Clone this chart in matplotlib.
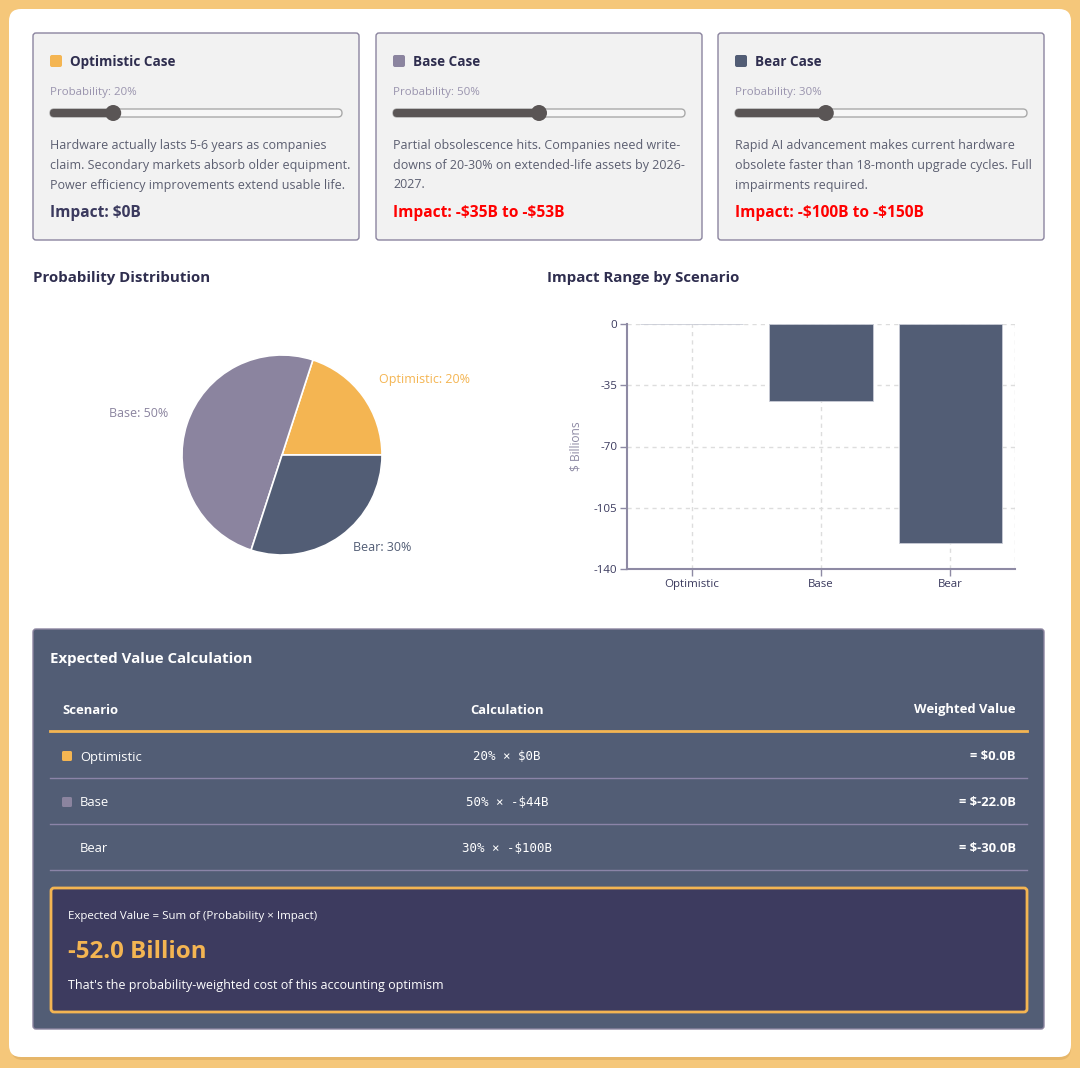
import matplotlib
matplotlib.use("Agg")
import matplotlib.pyplot as plt
from matplotlib.patches import FancyBboxPatch, Rectangle, Circle

plt.rcParams['font.family'] = ['Open Sans', 'DejaVu Sans']
plt.rcParams['axes.unicode_minus'] = False

# ---------------- data ----------------
scenarios = ["Optimistic", "Base", "Bear"]
card_titles = ["Optimistic Case", "Base Case", "Bear Case"]
probabilities = [20, 50, 30]
bar_impacts = [0, -44, -125]
calc_impacts = [0, -44, -100]
weighted_values = [0.0, -22.0, -30.0]
impact_labels = ["Impact: $0B", "Impact: -$35B to -$53B", "Impact: -$100B to -$150B"]
descriptions = [
    ["Hardware actually lasts 5-6 years as companies",
     "claim. Secondary markets absorb older equipment.",
     "Power efficiency improvements extend usable life."],
    ["Partial obsolescence hits. Companies need write-",
     "downs of 20-30% on extended-life assets by 2026-",
     "2027."],
    ["Rapid AI advancement makes current hardware",
     "obsolete faster than 18-month upgrade cycles. Full",
     "impairments required."],
]
y_ticks = [0, -35, -70, -105, -140]
expected_value = -52.0

colors = ["#F4B552", "#8B849F", "#525D75"]
impact_colors = ["#3B3A5E", "#FF0000", "#FF0000"]
DARK = "#2F2E4F"
W, H = 1080, 1068

fig = plt.figure(figsize=(W / 100, H / 100), dpi=100)
fig.patch.set_facecolor("#F5C77A")
bg = fig.add_axes([0, 0, 1, 1], zorder=0)
bg.set_xlim(0, W)
bg.set_ylim(H, 0)
bg.axis("off")


def pt(px):
    return px * 0.72


def T(x, y, s, size, **kw):
    kw.setdefault("va", "center")
    kw.setdefault("ha", "left")
    return bg.text(x, y + 1, s, fontsize=pt(size), parse_math=False, **kw)


# white card with shadow
bg.add_patch(FancyBboxPatch((11, 12), 1060, 1048, boxstyle="round,pad=0,rounding_size=12",
                            fc="#D9A65A", ec="none", alpha=0.5))
bg.add_patch(FancyBboxPatch((9, 9), 1062, 1048, boxstyle="round,pad=0,rounding_size=12",
                            fc="white", ec="none"))

# ---------------- top cards ----------------
card_x = [33, 376, 718]
card_w = 326
for i in range(3):
    x0 = card_x[i]
    bg.add_patch(FancyBboxPatch((x0, 33), card_w, 207, boxstyle="round,pad=0,rounding_size=3",
                                fc="#F2F2F2", ec="#8B849F", lw=1))
    bg.add_patch(FancyBboxPatch((x0 + 17, 55), 12, 12, boxstyle="round,pad=0,rounding_size=2",
                                fc=colors[i], ec="none"))
    T(x0 + 37, 61, card_titles[i], 13.5, fontweight="bold", color=DARK)
    T(x0 + 17, 92, f"Probability: {probabilities[i]}%", 11.5, color="#9A94AE")
    # slider
    tl, tr = x0 + 17, x0 + 309
    bg.add_patch(FancyBboxPatch((tl, 109), tr - tl, 8, boxstyle="round,pad=0,rounding_size=4",
                                fc="#F7F7F7", ec="#AAAAAA", lw=1))
    thumb = tl + 8 + probabilities[i] / 100 * (tr - tl - 16)
    bg.add_patch(FancyBboxPatch((tl, 109), thumb - tl, 8, boxstyle="round,pad=0,rounding_size=4",
                                fc="#5A5555", ec="none"))
    bg.add_patch(Circle((thumb, 113), 8, fc="#5A5555", ec="none"))
    for j, line in enumerate(descriptions[i]):
        T(x0 + 17, 144 + 20 * j, line, 12.5, color="#5B5E70")
    T(x0 + 17, 212, impact_labels[i], 15.5, fontweight="bold", color=impact_colors[i])

# ---------------- section titles ----------------
T(33, 277, "Probability Distribution", 15, fontweight="bold", color=DARK)
T(547, 277, "Impact Range by Scenario", 15, fontweight="bold", color=DARK)

# ---------------- pie ----------------
cx, cy, r = 282, 455, 100
side = 2.5 * r
pax = fig.add_axes([(cx - side / 2) / W, 1 - (cy + side / 2) / H, side / W, side / H], zorder=2)
pax.patch.set_alpha(0)
wedges, texts = pax.pie(probabilities, labels=[f"{s}: {p}%" for s, p in zip(scenarios, probabilities)],
                        colors=colors, startangle=0, counterclock=True, labeldistance=1.2,
                        wedgeprops=dict(edgecolor="white", linewidth=1.2),
                        textprops=dict(fontsize=pt(12.5)))
for t, c in zip(texts, colors):
    t.set_color(c)
    px, py = t.get_position()
    t.set_position((px, py + 0.045))

# ---------------- bar chart ----------------
bl, br, bt, bb = 627, 1015, 324, 569
bax = fig.add_axes([bl / W, 1 - bb / H, (br - bl) / W, (bb - bt) / H], zorder=2)
bax.set_facecolor("none")
xpos = list(range(len(scenarios)))
bax.bar(xpos, bar_impacts, width=0.8, color=colors[2], edgecolor="#C9CCD6", linewidth=0.6, zorder=3)
bax.set_xlim(-0.5, 2.5)
bax.set_ylim(-140, 0)
bax.set_yticks(y_ticks)
bax.set_xticks(xpos)
bax.set_xticklabels(scenarios)
bax.tick_params(axis="both", labelsize=pt(11.5), colors="#8E8AA4", labelcolor="#3B3A5E",
                length=5, width=1, pad=2)
bax.grid(True, linestyle=(0, (3, 3)), color="#DDDDDD", linewidth=1, zorder=0)
bax.axvline(2.5, linestyle=(0, (3, 3)), color="#DDDDDD", linewidth=1, zorder=0)
for s in ["top", "right"]:
    bax.spines[s].set_visible(False)
for s in ["left", "bottom"]:
    bax.spines[s].set_color("#8E8AA4")
    bax.spines[s].set_linewidth(1.5)
bax.set_ylabel("$ Billions", fontsize=pt(12), color="#8E8AA4", labelpad=8)

# ---------------- expected value panel ----------------
bg.add_patch(FancyBboxPatch((33, 629), 1011, 400, boxstyle="round,pad=0,rounding_size=3",
                            fc="#525D75", ec="#8B849F", lw=1))
T(50, 658, "Expected Value Calculation", 15, fontweight="bold", color="white")
T(62, 709, "Scenario", 13, fontweight="bold", color="white")
T(507, 709, "Calculation", 13, fontweight="bold", color="white", ha="center")
T(1016, 709, "Weighted Value", 13, fontweight="bold", color="white", ha="right")
bg.plot([50, 1027], [731, 731], color="#F4B552", lw=2)
for i in range(3):
    y = 756 + 46 * i
    bg.add_patch(FancyBboxPatch((62, y - 5), 10, 10, boxstyle="round,pad=0,rounding_size=1.5",
                                fc=colors[i], ec="none"))
    T(80, y, scenarios[i], 13, color="white")
    imp = calc_impacts[i]
    imp_s = f"${imp}B" if imp >= 0 else f"-${-imp}B"
    T(507, y, f"{probabilities[i]}% × {imp_s}", 12.5, color="white",
      family="DejaVu Sans Mono", ha="center")
    T(1016, y, f"= ${weighted_values[i]:.1f}B", 13, fontweight="bold", color="white", ha="right")
    bg.plot([50, 1027], [y + 22, y + 22], color="#8B84A8", lw=1)

bg.add_patch(FancyBboxPatch((51, 888), 976, 124, boxstyle="round,pad=0,rounding_size=3",
                            fc="#3D3B5F", ec="#F4B552", lw=2))
T(68, 915, "Expected Value = Sum of (Probability × Impact)", 11.5, color="white")
T(68, 951, f"{expected_value:.1f} Billion", 24, fontweight="bold", color="#F4B552")
T(68, 985, "That's the probability-weighted cost of this accounting optimism", 12.5, color="white")

fig.savefig("out.png", dpi=100, facecolor=fig.get_facecolor())
